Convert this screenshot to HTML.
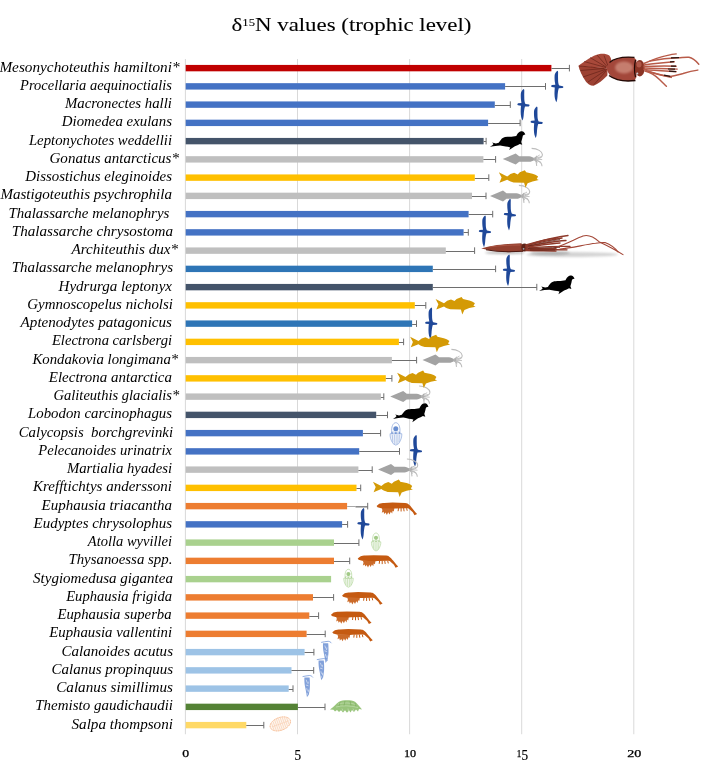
<!DOCTYPE html><html><head><meta charset="utf-8"><title>d15N values</title><style>
html,body{margin:0;padding:0;background:#fff;}
svg{display:block;}
.lab{font-family:"Liberation Serif",serif;font-style:italic;font-size:14.8px;fill:#000;}
.ax{font-family:"Liberation Serif",serif;font-size:10.4px;fill:#000;stroke:#000;stroke-width:0.25px;}
.ax5{font-family:"Liberation Serif",serif;font-size:15px;fill:#000;stroke:#000;stroke-width:0.2px;}
.ttl{font-family:"Liberation Serif","DejaVu Serif",serif;font-size:19px;fill:#000;stroke:#000;stroke-width:0.08px;}
</style></head><body>
<svg width="713" height="760" viewBox="0 0 713 760">
<filter id="blur1" x="-20%" y="-200%" width="140%" height="500%"><feGaussianBlur stdDeviation="1.2"/></filter>
<text class="ttl" x="231.60" y="30.6" textLength="239.80" lengthAdjust="spacingAndGlyphs">&#948;<tspan font-size="10.5px" dy="-5">15</tspan><tspan dy="5">N values (trophic level)</tspan></text>
<rect x="297.00" y="59.00" width="1" height="675.25" fill="#D9D9D9"/>
<rect x="409.10" y="59.00" width="1" height="675.25" fill="#D9D9D9"/>
<rect x="521.20" y="59.00" width="1" height="675.25" fill="#D9D9D9"/>
<rect x="633.30" y="59.00" width="1" height="675.25" fill="#D9D9D9"/>
<rect x="184.90" y="59.00" width="1" height="675.25" fill="#D9D9D9"/>
<rect x="185.70" y="64.92" width="365.70" height="6.4" fill="#C00000"/>
<rect x="185.70" y="83.17" width="319.40" height="6.4" fill="#4472C4"/>
<rect x="185.70" y="101.42" width="309.10" height="6.4" fill="#4472C4"/>
<rect x="185.70" y="119.67" width="302.40" height="6.4" fill="#4472C4"/>
<rect x="185.70" y="137.93" width="297.90" height="6.4" fill="#44546A"/>
<rect x="185.70" y="156.18" width="297.70" height="6.4" fill="#BFBFBF"/>
<rect x="185.70" y="174.43" width="289.10" height="6.4" fill="#FFC000"/>
<rect x="185.70" y="192.68" width="286.30" height="6.4" fill="#BFBFBF"/>
<rect x="185.70" y="210.93" width="282.90" height="6.4" fill="#4472C4"/>
<rect x="185.70" y="229.18" width="277.90" height="6.4" fill="#4472C4"/>
<rect x="185.70" y="247.43" width="260.10" height="6.4" fill="#BFBFBF"/>
<rect x="185.70" y="265.68" width="247.10" height="6.4" fill="#2E75B6"/>
<rect x="185.70" y="283.93" width="247.10" height="6.4" fill="#44546A"/>
<rect x="185.70" y="302.18" width="229.10" height="6.4" fill="#FFC000"/>
<rect x="185.70" y="320.43" width="226.40" height="6.4" fill="#2E75B6"/>
<rect x="185.70" y="338.68" width="213.20" height="6.4" fill="#FFC000"/>
<rect x="185.70" y="356.93" width="206.20" height="6.4" fill="#BFBFBF"/>
<rect x="185.70" y="375.18" width="200.10" height="6.4" fill="#FFC000"/>
<rect x="185.70" y="393.43" width="195.20" height="6.4" fill="#BFBFBF"/>
<rect x="185.70" y="411.68" width="190.50" height="6.4" fill="#44546A"/>
<rect x="185.70" y="429.93" width="177.20" height="6.4" fill="#4472C4"/>
<rect x="185.70" y="448.18" width="173.50" height="6.4" fill="#4472C4"/>
<rect x="185.70" y="466.43" width="172.70" height="6.4" fill="#BFBFBF"/>
<rect x="185.70" y="484.68" width="170.80" height="6.4" fill="#FFC000"/>
<rect x="185.70" y="502.93" width="161.40" height="6.4" fill="#ED7D31"/>
<rect x="185.70" y="521.17" width="156.40" height="6.4" fill="#4472C4"/>
<rect x="185.70" y="539.42" width="148.30" height="6.4" fill="#A9D18E"/>
<rect x="185.70" y="557.67" width="148.30" height="6.4" fill="#ED7D31"/>
<rect x="185.70" y="575.92" width="145.40" height="6.4" fill="#A9D18E"/>
<rect x="185.70" y="594.17" width="127.30" height="6.4" fill="#ED7D31"/>
<rect x="185.70" y="612.42" width="123.60" height="6.4" fill="#ED7D31"/>
<rect x="185.70" y="630.67" width="120.90" height="6.4" fill="#ED7D31"/>
<rect x="185.70" y="648.92" width="118.90" height="6.4" fill="#9DC3E6"/>
<rect x="185.70" y="667.17" width="105.80" height="6.4" fill="#9DC3E6"/>
<rect x="185.70" y="685.42" width="103.00" height="6.4" fill="#9DC3E6"/>
<rect x="185.70" y="703.67" width="112.20" height="6.4" fill="#548235"/>
<rect x="185.70" y="721.92" width="60.60" height="6.4" fill="#FFD966"/>
<g><path fill="#A8493A" d="M578.4,65.7 C585,61 592,55.5 599.5,53.9 C603,53.3 607,53.8 609.3,55.4 C611,57.5 611.8,60 611.3,62.7 L607.5,68.5 Z"/><path fill="#9C4132" d="M578.4,65.7 L607.5,68.5 L607.4,75.5 C603,80 598,84 593.6,85.8 C590,85.5 587.5,83.5 585.8,81.4 C582,76 579.5,70 578.4,65.7 Z"/><g fill="none" stroke="#5E1E14" stroke-width="0.8" opacity="0.75"><path d="M606,67.5 L584,61.5 M606,67 L590,57.5 M607,66.5 L597,55 M608,66 L604,55.5 M606,70 L588,82 M606,71 L594,84.5 M605,69.5 L583,77 M604,68.5 L580.5,70.5"/></g><path fill="none" stroke="#7A2A1D" stroke-width="1.1" d="M579,66 C590,67 600,67.8 608,69.5"/><path fill="#A3473A" d="M607,66.5 C610,61 616,58 624,57.2 C628,56.8 632,57 634.5,58 L636.5,60 L636.5,77 L634.5,80.5 C628,81.5 620,81 614,78.5 C610.5,76.5 608,73 607,70 Z"/><ellipse cx="624" cy="67.5" rx="9" ry="6" fill="#DDA292" opacity="0.6" filter="url(#blur1)"/><path fill="none" stroke="#220804" stroke-width="1.1" d="M609.5,62.5 C614,58.5 622,56.3 634.5,57.4"/><path fill="none" stroke="#220804" stroke-width="1.5" d="M609,75.5 C615,80 625,81.8 635.5,80.5"/><ellipse cx="639.8" cy="68.2" rx="5" ry="8.2" fill="#8A3425"/><ellipse cx="639" cy="64.5" rx="2.5" ry="3" fill="#C87262" opacity="0.6"/><path fill="none" stroke="#220804" stroke-width="1.2" d="M635.5,60 C634.3,65 634.3,72 635.5,77"/><circle cx="637.3" cy="73.5" r="1" fill="#C8D0D8"/><g fill="none" stroke="#B85B49" stroke-width="1.45" stroke-linecap="round"><path d="M644,63.5 C652,60 659,57 665.4,55.9 C669,55 673,54 676.2,53.9"/><path d="M650,61 C660,59 670,58 678.2,57.8 C683,57.5 686,57 689,57.3 C693,58 696,61 698.8,64.2"/><path d="M644,65 C654,63.5 664,62.5 674.3,61.7"/><path d="M644,66.5 C655,66 666,66 676.2,66.2"/><path d="M644,68 C655,68.5 666,68.8 677.2,69.1"/><path d="M644,69.5 C655,70.5 666,71 676.2,71.6"/><path d="M648,71.5 C656,74 663,76 670.3,76.5 C675,76 679,74.5 683.1,73.5 C688,72 693,70.8 697.8,70.1"/><path d="M645,71 C652,72.5 656,76 660,80 C662.5,82.5 664.5,84.5 666.4,86.3"/><path d="M646,70.5 C656,73.5 664,76 671.3,77.4"/></g><g fill="none" stroke="#2A1410" stroke-width="1.2"><path d="M671,57.8 L679,57.6 M670,61.9 L674,61.7 M671,66.1 L676,66.2 M669,71.2 L676,71.6 M664,75.2 L670.3,76.4 M668,69 L675,69.1"/></g></g>
<g><ellipse cx="572" cy="254.5" rx="46" ry="2.4" fill="#A0A0A0" opacity="0.45" filter="url(#blur1)"/><ellipse cx="505" cy="252.8" rx="20" ry="1.4" fill="#606060" opacity="0.45" filter="url(#blur1)"/><ellipse cx="550" cy="253" rx="20" ry="2" fill="#808080" opacity="0.45" filter="url(#blur1)"/><path fill="#93402F" d="M481.2,248.6 C488,246.5 498,244.5 508,244 L521,243.3 C523,244 524.5,247 523.8,251.2 L508,252.2 C498,251.6 488,250.2 481.2,248.6 Z"/><path fill="none" stroke="#B8604D" stroke-width="1" opacity="0.7" d="M490,246.8 C500,245.5 510,245 520,245"/><path fill="none" stroke="#4E1A12" stroke-width="1.1" d="M486,249.8 C495,251.5 508,252.2 523,251.2"/><ellipse cx="524.5" cy="247.4" rx="3.2" ry="4" fill="#5E2419"/><circle cx="523.6" cy="248.8" r="0.9" fill="#9AA6B0"/><g fill="none" stroke="#8E3A2B" stroke-width="1.35" stroke-linecap="round"><path d="M526,245 C540,241 555,237 568,235.5"/><path d="M526,245.5 C540,242.5 552,239.5 562,238"/><path d="M526,246.5 C542,244 555,241 566,240.5"/><path d="M526,247 C540,245.5 550,243.5 560,243"/><path d="M526,248 C542,247 556,246 570,246.5"/><path d="M526,249 C538,248.5 548,248.2 556,248.5"/><path d="M526,249.5 C545,250 556,249.5 567,249.8"/><path d="M526,250.5 C540,251 548,250.5 556,251"/><path d="M530,244.5 C540,241 548,238.5 556,238.5"/></g><g fill="none" stroke="#A34636" stroke-width="1.1" stroke-linecap="round"><path d="M555,247.5 C565,245 575,239 583,236 C590,234 595,238 599,241.7 C608,246 616,250 623,254.6"/><path d="M560,249 C572,248 585,244.5 595.6,243.3 C600,242.6 603,242.2 605,242.6 C610,244.5 615,248 618,252"/></g><g fill="none" stroke="#5A2016" stroke-width="0.7"><path d="M528,246 C540,243.5 550,241 560,239.5"/><path d="M528,248.5 C540,248 550,247.5 560,247.5"/><path d="M530,250 C540,250.2 548,250 555,250"/></g></g>
<g transform="translate(551,70.7)"><path fill="#1F4899" d="M6.4,0 C4.8,1.3 3.7,3 3.6,5 C3.5,7 3.6,10 4,12.1 L4.3,14.1 L1,14.3 C0,14.6 -0.2,16 0.8,16.3 L3.8,16.7 C3.6,18.5 3.5,21 3.5,23.5 C3.5,26.5 4.2,29.5 5.3,31.6 C6,30.5 6.3,28.5 6.5,26 C6.7,23 6.9,20.5 7.8,17.6 L11.5,17.4 C12.4,17.2 12.7,16.2 11.9,15.6 L8.3,14.9 C7.5,13.8 7.2,12 7.1,10 C7,7 7,4 7.1,1.5 C7.1,0.8 6.9,0.2 6.4,0 Z"/></g>
<g transform="translate(517.2,89)"><path fill="#1F4899" d="M6.4,0 C4.8,1.3 3.7,3 3.6,5 C3.5,7 3.6,10 4,12.1 L4.3,14.1 L1,14.3 C0,14.6 -0.2,16 0.8,16.3 L3.8,16.7 C3.6,18.5 3.5,21 3.5,23.5 C3.5,26.5 4.2,29.5 5.3,31.6 C6,30.5 6.3,28.5 6.5,26 C6.7,23 6.9,20.5 7.8,17.6 L11.5,17.4 C12.4,17.2 12.7,16.2 11.9,15.6 L8.3,14.9 C7.5,13.8 7.2,12 7.1,10 C7,7 7,4 7.1,1.5 C7.1,0.8 6.9,0.2 6.4,0 Z"/></g>
<g transform="translate(530.4,106.5)"><path fill="#1F4899" d="M6.4,0 C4.8,1.3 3.7,3 3.6,5 C3.5,7 3.6,10 4,12.1 L4.3,14.1 L1,14.3 C0,14.6 -0.2,16 0.8,16.3 L3.8,16.7 C3.6,18.5 3.5,21 3.5,23.5 C3.5,26.5 4.2,29.5 5.3,31.6 C6,30.5 6.3,28.5 6.5,26 C6.7,23 6.9,20.5 7.8,17.6 L11.5,17.4 C12.4,17.2 12.7,16.2 11.9,15.6 L8.3,14.9 C7.5,13.8 7.2,12 7.1,10 C7,7 7,4 7.1,1.5 C7.1,0.8 6.9,0.2 6.4,0 Z"/></g>
<g transform="translate(503.7,198.8)"><path fill="#1F4899" d="M6.4,0 C4.8,1.3 3.7,3 3.6,5 C3.5,7 3.6,10 4,12.1 L4.3,14.1 L1,14.3 C0,14.6 -0.2,16 0.8,16.3 L3.8,16.7 C3.6,18.5 3.5,21 3.5,23.5 C3.5,26.5 4.2,29.5 5.3,31.6 C6,30.5 6.3,28.5 6.5,26 C6.7,23 6.9,20.5 7.8,17.6 L11.5,17.4 C12.4,17.2 12.7,16.2 11.9,15.6 L8.3,14.9 C7.5,13.8 7.2,12 7.1,10 C7,7 7,4 7.1,1.5 C7.1,0.8 6.9,0.2 6.4,0 Z"/></g>
<g transform="translate(478.7,215.6)"><path fill="#1F4899" d="M6.4,0 C4.8,1.3 3.7,3 3.6,5 C3.5,7 3.6,10 4,12.1 L4.3,14.1 L1,14.3 C0,14.6 -0.2,16 0.8,16.3 L3.8,16.7 C3.6,18.5 3.5,21 3.5,23.5 C3.5,26.5 4.2,29.5 5.3,31.6 C6,30.5 6.3,28.5 6.5,26 C6.7,23 6.9,20.5 7.8,17.6 L11.5,17.4 C12.4,17.2 12.7,16.2 11.9,15.6 L8.3,14.9 C7.5,13.8 7.2,12 7.1,10 C7,7 7,4 7.1,1.5 C7.1,0.8 6.9,0.2 6.4,0 Z"/></g>
<g transform="translate(502.7,254.4)"><path fill="#1F4899" d="M6.4,0 C4.8,1.3 3.7,3 3.6,5 C3.5,7 3.6,10 4,12.1 L4.3,14.1 L1,14.3 C0,14.6 -0.2,16 0.8,16.3 L3.8,16.7 C3.6,18.5 3.5,21 3.5,23.5 C3.5,26.5 4.2,29.5 5.3,31.6 C6,30.5 6.3,28.5 6.5,26 C6.7,23 6.9,20.5 7.8,17.6 L11.5,17.4 C12.4,17.2 12.7,16.2 11.9,15.6 L8.3,14.9 C7.5,13.8 7.2,12 7.1,10 C7,7 7,4 7.1,1.5 C7.1,0.8 6.9,0.2 6.4,0 Z"/></g>
<g transform="translate(425,307.4)"><path fill="#1F4899" d="M6.4,0 C4.8,1.3 3.7,3 3.6,5 C3.5,7 3.6,10 4,12.1 L4.3,14.1 L1,14.3 C0,14.6 -0.2,16 0.8,16.3 L3.8,16.7 C3.6,18.5 3.5,21 3.5,23.5 C3.5,26.5 4.2,29.5 5.3,31.6 C6,30.5 6.3,28.5 6.5,26 C6.7,23 6.9,20.5 7.8,17.6 L11.5,17.4 C12.4,17.2 12.7,16.2 11.9,15.6 L8.3,14.9 C7.5,13.8 7.2,12 7.1,10 C7,7 7,4 7.1,1.5 C7.1,0.8 6.9,0.2 6.4,0 Z"/></g>
<g transform="translate(409.7,434.9)"><path fill="#1F4899" d="M6.4,0 C4.8,1.3 3.7,3 3.6,5 C3.5,7 3.6,10 4,12.1 L4.3,14.1 L1,14.3 C0,14.6 -0.2,16 0.8,16.3 L3.8,16.7 C3.6,18.5 3.5,21 3.5,23.5 C3.5,26.5 4.2,29.5 5.3,31.6 C6,30.5 6.3,28.5 6.5,26 C6.7,23 6.9,20.5 7.8,17.6 L11.5,17.4 C12.4,17.2 12.7,16.2 11.9,15.6 L8.3,14.9 C7.5,13.8 7.2,12 7.1,10 C7,7 7,4 7.1,1.5 C7.1,0.8 6.9,0.2 6.4,0 Z"/></g>
<g transform="translate(357.2,508)"><path fill="#1F4899" d="M6.4,0 C4.8,1.3 3.7,3 3.6,5 C3.5,7 3.6,10 4,12.1 L4.3,14.1 L1,14.3 C0,14.6 -0.2,16 0.8,16.3 L3.8,16.7 C3.6,18.5 3.5,21 3.5,23.5 C3.5,26.5 4.2,29.5 5.3,31.6 C6,30.5 6.3,28.5 6.5,26 C6.7,23 6.9,20.5 7.8,17.6 L11.5,17.4 C12.4,17.2 12.7,16.2 11.9,15.6 L8.3,14.9 C7.5,13.8 7.2,12 7.1,10 C7,7 7,4 7.1,1.5 C7.1,0.8 6.9,0.2 6.4,0 Z"/></g>
<g transform="translate(489.9,131.2)"><path fill="#000" d="M2.2,11.2 L6,12.2 L8.8,11.5 C9.6,10.5 10.2,9.6 10.9,8.7 C12,7.3 13.5,6.4 15.1,5.9 C17,5.6 19.5,5.6 21.5,5.6 L26.4,4.9 C26.8,4 27.2,3.1 27.8,2.4 C28.8,1.1 30,0.2 31.3,0 C32.5,0 33.5,0.4 34.1,1 L35.5,3.1 L33,4.2 C32.8,5.2 32.5,6.3 32.3,7.3 C32,8.5 31.6,9.7 31.3,10.8 L32.3,13.5 L29.9,12.8 C28.5,13.8 26.8,14.6 25,15 L19.3,18.9 L20.4,16.1 C19,15.8 17.3,15.6 15.8,15.4 C14,15.1 12,14.7 10.2,14.3 L5.3,14.7 L0,15.6 L2.5,14 L3.6,12.8 Z"/></g>
<g transform="translate(539.1,275.4)"><path fill="#000" d="M2.2,11.2 L6,12.2 L8.8,11.5 C9.6,10.5 10.2,9.6 10.9,8.7 C12,7.3 13.5,6.4 15.1,5.9 C17,5.6 19.5,5.6 21.5,5.6 L26.4,4.9 C26.8,4 27.2,3.1 27.8,2.4 C28.8,1.1 30,0.2 31.3,0 C32.5,0 33.5,0.4 34.1,1 L35.5,3.1 L33,4.2 C32.8,5.2 32.5,6.3 32.3,7.3 C32,8.5 31.6,9.7 31.3,10.8 L32.3,13.5 L29.9,12.8 C28.5,13.8 26.8,14.6 25,15 L19.3,18.9 L20.4,16.1 C19,15.8 17.3,15.6 15.8,15.4 C14,15.1 12,14.7 10.2,14.3 L5.3,14.7 L0,15.6 L2.5,14 L3.6,12.8 Z"/></g>
<g transform="translate(393,403.3)"><path fill="#000" d="M2.2,11.2 L6,12.2 L8.8,11.5 C9.6,10.5 10.2,9.6 10.9,8.7 C12,7.3 13.5,6.4 15.1,5.9 C17,5.6 19.5,5.6 21.5,5.6 L26.4,4.9 C26.8,4 27.2,3.1 27.8,2.4 C28.8,1.1 30,0.2 31.3,0 C32.5,0 33.5,0.4 34.1,1 L35.5,3.1 L33,4.2 C32.8,5.2 32.5,6.3 32.3,7.3 C32,8.5 31.6,9.7 31.3,10.8 L32.3,13.5 L29.9,12.8 C28.5,13.8 26.8,14.6 25,15 L19.3,18.9 L20.4,16.1 C19,15.8 17.3,15.6 15.8,15.4 C14,15.1 12,14.7 10.2,14.3 L5.3,14.7 L0,15.6 L2.5,14 L3.6,12.8 Z"/></g>
<g transform="translate(502.7,159)"><path fill="#A3A3A3" d="M0,0 L13,-5.5 L16.5,-2.8 L26.5,-2.8 C28.5,-2.5 30,-1.8 31.5,-1 L34.5,-3.8 L33.5,-0.5 L36,0 L33.5,0.6 L35,4.5 L31.5,1.2 C30,2 28.5,2.6 26.5,2.8 L16.5,2.8 L13,5.5 Z"/><path fill="none" stroke="#B5B5B5" stroke-width="0.8" d="M31,-0.5 L38.5,-2.2 M31,0 L39.5,0.6 M31,0.6 L38,3.2 M31,-0.2 L37,-4"/><path fill="none" stroke="#BDBDBD" stroke-width="1.1" d="M35,-0.5 C37.5,-1 39.8,-2.5 39.7,-4.5 C39.5,-7.5 35,-10.5 28.9,-10.6 M34,1.2 C37,2.2 39.3,4.5 39.3,7.2 M33.2,1 L34,6.8"/></g>
<g transform="translate(490,196)"><path fill="#A3A3A3" d="M0,0 L13,-5.5 L16.5,-2.8 L26.5,-2.8 C28.5,-2.5 30,-1.8 31.5,-1 L34.5,-3.8 L33.5,-0.5 L36,0 L33.5,0.6 L35,4.5 L31.5,1.2 C30,2 28.5,2.6 26.5,2.8 L16.5,2.8 L13,5.5 Z"/><path fill="none" stroke="#B5B5B5" stroke-width="0.8" d="M31,-0.5 L38.5,-2.2 M31,0 L39.5,0.6 M31,0.6 L38,3.2 M31,-0.2 L37,-4"/><path fill="none" stroke="#BDBDBD" stroke-width="1.1" d="M35,-0.5 C37.5,-1 39.8,-2.5 39.7,-4.5 C39.5,-7.5 35,-10.5 28.9,-10.6 M34,1.2 C37,2.2 39.3,4.5 39.3,7.2 M33.2,1 L34,6.8"/></g>
<g transform="translate(422.5,360)"><path fill="#A3A3A3" d="M0,0 L13,-5.5 L16.5,-2.8 L26.5,-2.8 C28.5,-2.5 30,-1.8 31.5,-1 L34.5,-3.8 L33.5,-0.5 L36,0 L33.5,0.6 L35,4.5 L31.5,1.2 C30,2 28.5,2.6 26.5,2.8 L16.5,2.8 L13,5.5 Z"/><path fill="none" stroke="#B5B5B5" stroke-width="0.8" d="M31,-0.5 L38.5,-2.2 M31,0 L39.5,0.6 M31,0.6 L38,3.2 M31,-0.2 L37,-4"/><path fill="none" stroke="#BDBDBD" stroke-width="1.1" d="M35,-0.5 C37.5,-1 39.8,-2.5 39.7,-4.5 C39.5,-7.5 35,-10.5 28.9,-10.6 M34,1.2 C37,2.2 39.3,4.5 39.3,7.2 M33.2,1 L34,6.8"/></g>
<g transform="translate(390.2,396.6)"><path fill="#A3A3A3" d="M0,0 L13,-5.5 L16.5,-2.8 L26.5,-2.8 C28.5,-2.5 30,-1.8 31.5,-1 L34.5,-3.8 L33.5,-0.5 L36,0 L33.5,0.6 L35,4.5 L31.5,1.2 C30,2 28.5,2.6 26.5,2.8 L16.5,2.8 L13,5.5 Z"/><path fill="none" stroke="#B5B5B5" stroke-width="0.8" d="M31,-0.5 L38.5,-2.2 M31,0 L39.5,0.6 M31,0.6 L38,3.2 M31,-0.2 L37,-4"/><path fill="none" stroke="#BDBDBD" stroke-width="1.1" d="M35,-0.5 C37.5,-1 39.8,-2.5 39.7,-4.5 C39.5,-7.5 35,-10.5 28.9,-10.6 M34,1.2 C37,2.2 39.3,4.5 39.3,7.2 M33.2,1 L34,6.8"/></g>
<g transform="translate(378,469.6)"><path fill="#A3A3A3" d="M0,0 L13,-5.5 L16.5,-2.8 L26.5,-2.8 C28.5,-2.5 30,-1.8 31.5,-1 L34.5,-3.8 L33.5,-0.5 L36,0 L33.5,0.6 L35,4.5 L31.5,1.2 C30,2 28.5,2.6 26.5,2.8 L16.5,2.8 L13,5.5 Z"/><path fill="none" stroke="#B5B5B5" stroke-width="0.8" d="M31,-0.5 L38.5,-2.2 M31,0 L39.5,0.6 M31,0.6 L38,3.2 M31,-0.2 L37,-4"/><path fill="none" stroke="#BDBDBD" stroke-width="1.1" d="M35,-0.5 C37.5,-1 39.8,-2.5 39.7,-4.5 C39.5,-7.5 35,-10.5 28.9,-10.6 M34,1.2 C37,2.2 39.3,4.5 39.3,7.2 M33.2,1 L34,6.8"/></g>
<g transform="translate(498.6,178.5)"><path fill="#D49A05" d="M0.2,-6.2 L3,-0.9 L0.9,4.3 L8.6,1.2 C10.5,2.5 12.5,3.5 14.9,4 L25.5,4.3 L26.9,9.2 L29,4.7 L33.9,2.9 L40.2,1.5 L38.1,0.5 L39.5,-2 C37.5,-3.5 36,-4.3 33.9,-4.8 L27.6,-6.2 L26.2,-8.3 L21.2,-6.2 L19.1,-4.1 L15.6,-5.8 L11.8,-4.4 L8.6,-2 Z"/></g>
<g transform="translate(435.4,305.2)"><path fill="#D49A05" d="M0.2,-6.2 L3,-0.9 L0.9,4.3 L8.6,1.2 C10.5,2.5 12.5,3.5 14.9,4 L25.5,4.3 L26.9,9.2 L29,4.7 L33.9,2.9 L40.2,1.5 L38.1,0.5 L39.5,-2 C37.5,-3.5 36,-4.3 33.9,-4.8 L27.6,-6.2 L26.2,-8.3 L21.2,-6.2 L19.1,-4.1 L15.6,-5.8 L11.8,-4.4 L8.6,-2 Z"/></g>
<g transform="translate(409.9,343)"><path fill="#D49A05" d="M0.2,-6.2 L3,-0.9 L0.9,4.3 L8.6,1.2 C10.5,2.5 12.5,3.5 14.9,4 L25.5,4.3 L26.9,9.2 L29,4.7 L33.9,2.9 L40.2,1.5 L38.1,0.5 L39.5,-2 C37.5,-3.5 36,-4.3 33.9,-4.8 L27.6,-6.2 L26.2,-8.3 L21.2,-6.2 L19.1,-4.1 L15.6,-5.8 L11.8,-4.4 L8.6,-2 Z"/></g>
<g transform="translate(396.9,378.9)"><path fill="#D49A05" d="M0.2,-6.2 L3,-0.9 L0.9,4.3 L8.6,1.2 C10.5,2.5 12.5,3.5 14.9,4 L25.5,4.3 L26.9,9.2 L29,4.7 L33.9,2.9 L40.2,1.5 L38.1,0.5 L39.5,-2 C37.5,-3.5 36,-4.3 33.9,-4.8 L27.6,-6.2 L26.2,-8.3 L21.2,-6.2 L19.1,-4.1 L15.6,-5.8 L11.8,-4.4 L8.6,-2 Z"/></g>
<g transform="translate(372.7,487.9)"><path fill="#D49A05" d="M0.2,-6.2 L3,-0.9 L0.9,4.3 L8.6,1.2 C10.5,2.5 12.5,3.5 14.9,4 L25.5,4.3 L26.9,9.2 L29,4.7 L33.9,2.9 L40.2,1.5 L38.1,0.5 L39.5,-2 C37.5,-3.5 36,-4.3 33.9,-4.8 L27.6,-6.2 L26.2,-8.3 L21.2,-6.2 L19.1,-4.1 L15.6,-5.8 L11.8,-4.4 L8.6,-2 Z"/></g>
<g transform="translate(376.6,502.6)"><path fill="#C55A11" d="M0,3.3 L2.6,1.2 C4,0.8 6,0.4 7.6,0.4 L16,0 L28.7,0.4 C30,0.6 30.7,0.9 31.2,1.2 C33,2.5 34.5,4 35.4,5.4 L38.8,9.6 L40.5,11.3 L37.9,12.6 L36.2,9.6 L32,5.8 L30.4,5.6 L20,5.8 L17.7,6 L4.5,5.6 L0.9,4.6 Z"/><path fill="#C55A11" opacity="0.9" d="M5,5.2 L17.8,5.5 L17.2,9 L16,8.2 L15.6,11 L14.2,9.2 L12.9,11.8 L11.6,9.6 L10.3,12.3 L9,9.9 L7.6,11.4 L7,9.2 L5.2,10.2 L5.8,7.4 Z"/><path fill="none" stroke="#C55A11" stroke-width="1" d="M21.9,5.5 L21.5,8.6 M24.5,5.5 L24.5,8.9 M27,5.5 L27.5,8.7 M30,5.6 L30.6,8.2"/></g>
<g transform="translate(357.7,555.2)"><path fill="#C55A11" d="M0,3.3 L2.6,1.2 C4,0.8 6,0.4 7.6,0.4 L16,0 L28.7,0.4 C30,0.6 30.7,0.9 31.2,1.2 C33,2.5 34.5,4 35.4,5.4 L38.8,9.6 L40.5,11.3 L37.9,12.6 L36.2,9.6 L32,5.8 L30.4,5.6 L20,5.8 L17.7,6 L4.5,5.6 L0.9,4.6 Z"/><path fill="#C55A11" opacity="0.9" d="M5,5.2 L17.8,5.5 L17.2,9 L16,8.2 L15.6,11 L14.2,9.2 L12.9,11.8 L11.6,9.6 L10.3,12.3 L9,9.9 L7.6,11.4 L7,9.2 L5.2,10.2 L5.8,7.4 Z"/><path fill="none" stroke="#C55A11" stroke-width="1" d="M21.9,5.5 L21.5,8.6 M24.5,5.5 L24.5,8.9 M27,5.5 L27.5,8.7 M30,5.6 L30.6,8.2"/></g>
<g transform="translate(342.1,592.1)"><path fill="#C55A11" d="M0,3.3 L2.6,1.2 C4,0.8 6,0.4 7.6,0.4 L16,0 L28.7,0.4 C30,0.6 30.7,0.9 31.2,1.2 C33,2.5 34.5,4 35.4,5.4 L38.8,9.6 L40.5,11.3 L37.9,12.6 L36.2,9.6 L32,5.8 L30.4,5.6 L20,5.8 L17.7,6 L4.5,5.6 L0.9,4.6 Z"/><path fill="#C55A11" opacity="0.9" d="M5,5.2 L17.8,5.5 L17.2,9 L16,8.2 L15.6,11 L14.2,9.2 L12.9,11.8 L11.6,9.6 L10.3,12.3 L9,9.9 L7.6,11.4 L7,9.2 L5.2,10.2 L5.8,7.4 Z"/><path fill="none" stroke="#C55A11" stroke-width="1" d="M21.9,5.5 L21.5,8.6 M24.5,5.5 L24.5,8.9 M27,5.5 L27.5,8.7 M30,5.6 L30.6,8.2"/></g>
<g transform="translate(331,611.4)"><path fill="#C55A11" d="M0,3.3 L2.6,1.2 C4,0.8 6,0.4 7.6,0.4 L16,0 L28.7,0.4 C30,0.6 30.7,0.9 31.2,1.2 C33,2.5 34.5,4 35.4,5.4 L38.8,9.6 L40.5,11.3 L37.9,12.6 L36.2,9.6 L32,5.8 L30.4,5.6 L20,5.8 L17.7,6 L4.5,5.6 L0.9,4.6 Z"/><path fill="#C55A11" opacity="0.9" d="M5,5.2 L17.8,5.5 L17.2,9 L16,8.2 L15.6,11 L14.2,9.2 L12.9,11.8 L11.6,9.6 L10.3,12.3 L9,9.9 L7.6,11.4 L7,9.2 L5.2,10.2 L5.8,7.4 Z"/><path fill="none" stroke="#C55A11" stroke-width="1" d="M21.9,5.5 L21.5,8.6 M24.5,5.5 L24.5,8.9 M27,5.5 L27.5,8.7 M30,5.6 L30.6,8.2"/></g>
<g transform="translate(332.3,629)"><path fill="#C55A11" d="M0,3.3 L2.6,1.2 C4,0.8 6,0.4 7.6,0.4 L16,0 L28.7,0.4 C30,0.6 30.7,0.9 31.2,1.2 C33,2.5 34.5,4 35.4,5.4 L38.8,9.6 L40.5,11.3 L37.9,12.6 L36.2,9.6 L32,5.8 L30.4,5.6 L20,5.8 L17.7,6 L4.5,5.6 L0.9,4.6 Z"/><path fill="#C55A11" opacity="0.9" d="M5,5.2 L17.8,5.5 L17.2,9 L16,8.2 L15.6,11 L14.2,9.2 L12.9,11.8 L11.6,9.6 L10.3,12.3 L9,9.9 L7.6,11.4 L7,9.2 L5.2,10.2 L5.8,7.4 Z"/><path fill="none" stroke="#C55A11" stroke-width="1" d="M21.9,5.5 L21.5,8.6 M24.5,5.5 L24.5,8.9 M27,5.5 L27.5,8.7 M30,5.6 L30.6,8.2"/></g>
<g transform="translate(395.8,422.7)"><path fill="none" stroke="#8FAADC" stroke-width="0.8" d="M-4,10 C-4.8,4 -2.6,0 0,0 C2.6,0 4.8,4 4,10"/><path fill="#DAE3F3" fill-opacity="0.45" stroke="#8FAADC" stroke-width="0.7" d="M-5.7,11 C-5.9,14 -5.3,17 -2.7,21 L0,22.5 L2.8,21 C5.5,17 6.2,14 6,11 Z"/><path fill="none" stroke="#8FAADC" stroke-width="0.6" d="M-3.5,12 L-3,19.5 M-1.2,12 L-1,21.5 M1.2,12 L1.2,21.5 M3.5,12 L3.2,19.5"/><circle cx="0" cy="6" r="2.5" fill="#4472C4" opacity="0.8"/><rect x="-4.6" y="9" width="9.2" height="2.4" rx="1.1" fill="#4472C4" opacity="0.6"/><ellipse cx="-2" cy="10.2" rx="1.3" ry="0.6" fill="#fff"/><ellipse cx="2" cy="10.2" rx="1.3" ry="0.6" fill="#fff"/></g>
<g transform="translate(376,533) scale(0.8)"><path fill="none" stroke="#A9D18E" stroke-width="0.8" d="M-4,10 C-4.8,4 -2.6,0 0,0 C2.6,0 4.8,4 4,10"/><path fill="#E2F0D9" fill-opacity="0.45" stroke="#A9D18E" stroke-width="0.7" d="M-5.7,11 C-5.9,14 -5.3,17 -2.7,21 L0,22.5 L2.8,21 C5.5,17 6.2,14 6,11 Z"/><path fill="none" stroke="#A9D18E" stroke-width="0.6" d="M-3.5,12 L-3,19.5 M-1.2,12 L-1,21.5 M1.2,12 L1.2,21.5 M3.5,12 L3.2,19.5"/><circle cx="0" cy="6" r="2.6" fill="#70AD47" opacity="0.65"/><rect x="-4.6" y="9" width="9.2" height="2.4" rx="1.1" fill="#70AD47" opacity="0.4"/><ellipse cx="-2" cy="10.2" rx="1.3" ry="0.6" fill="#fff"/><ellipse cx="2" cy="10.2" rx="1.3" ry="0.6" fill="#fff"/></g>
<g transform="translate(348.4,569.3) scale(0.8)"><path fill="none" stroke="#A9D18E" stroke-width="0.8" d="M-4,10 C-4.8,4 -2.6,0 0,0 C2.6,0 4.8,4 4,10"/><path fill="#E2F0D9" fill-opacity="0.45" stroke="#A9D18E" stroke-width="0.7" d="M-5.7,11 C-5.9,14 -5.3,17 -2.7,21 L0,22.5 L2.8,21 C5.5,17 6.2,14 6,11 Z"/><path fill="none" stroke="#A9D18E" stroke-width="0.6" d="M-3.5,12 L-3,19.5 M-1.2,12 L-1,21.5 M1.2,12 L1.2,21.5 M3.5,12 L3.2,19.5"/><circle cx="0" cy="6" r="2.6" fill="#70AD47" opacity="0.65"/><rect x="-4.6" y="9" width="9.2" height="2.4" rx="1.1" fill="#70AD47" opacity="0.4"/><ellipse cx="-2" cy="10.2" rx="1.3" ry="0.6" fill="#fff"/><ellipse cx="2" cy="10.2" rx="1.3" ry="0.6" fill="#fff"/></g>
<g transform="translate(321.3,641)"><path fill="none" stroke="#5B84CF" stroke-width="0.9" opacity="0.75" d="M-0.1,1.4 C2,1 4.5,0.5 6.9,0.3 C8.3,0.4 9.5,1.2 10.2,2.2"/><path fill="#5F86D0" opacity="0.78" d="M1.7,2.2 C1.5,5 1.8,9 2.4,11.7 C2.9,14 3.3,16 3.6,18 L4.3,22 L5.2,20.5 L6.1,19.8 C6.6,17 7.1,14 7.2,11.7 C7.3,8 7.2,5 6.9,2.2 Z"/><path fill="none" stroke="#fff" stroke-width="0.7" opacity="0.75" d="M3.5,4.5 L4.5,7.5 M5.6,6.5 L5.2,9 M3.2,9.8 L5.8,10.6 M4,13 L4.6,15.5 M5.8,14.5 L5.5,17 M4.5,18 L5,19.5"/></g>
<g transform="translate(316.9,658.3)"><path fill="none" stroke="#5B84CF" stroke-width="0.9" opacity="0.75" d="M-0.1,1.4 C2,1 4.5,0.5 6.9,0.3 C8.3,0.4 9.5,1.2 10.2,2.2"/><path fill="#5F86D0" opacity="0.78" d="M1.7,2.2 C1.5,5 1.8,9 2.4,11.7 C2.9,14 3.3,16 3.6,18 L4.3,22 L5.2,20.5 L6.1,19.8 C6.6,17 7.1,14 7.2,11.7 C7.3,8 7.2,5 6.9,2.2 Z"/><path fill="none" stroke="#fff" stroke-width="0.7" opacity="0.75" d="M3.5,4.5 L4.5,7.5 M5.6,6.5 L5.2,9 M3.2,9.8 L5.8,10.6 M4,13 L4.6,15.5 M5.8,14.5 L5.5,17 M4.5,18 L5,19.5"/></g>
<g transform="translate(302.7,675.2)"><path fill="none" stroke="#5B84CF" stroke-width="0.9" opacity="0.75" d="M-0.1,1.4 C2,1 4.5,0.5 6.9,0.3 C8.3,0.4 9.5,1.2 10.2,2.2"/><path fill="#5F86D0" opacity="0.78" d="M1.7,2.2 C1.5,5 1.8,9 2.4,11.7 C2.9,14 3.3,16 3.6,18 L4.3,22 L5.2,20.5 L6.1,19.8 C6.6,17 7.1,14 7.2,11.7 C7.3,8 7.2,5 6.9,2.2 Z"/><path fill="none" stroke="#fff" stroke-width="0.7" opacity="0.75" d="M3.5,4.5 L4.5,7.5 M5.6,6.5 L5.2,9 M3.2,9.8 L5.8,10.6 M4,13 L4.6,15.5 M5.8,14.5 L5.5,17 M4.5,18 L5,19.5"/></g>
<g transform="translate(330,700)"><path fill="#8FBF70" opacity="0.92" d="M0,9.5 C3,7.5 6,4 9,1.8 C11,0.6 14,0.2 17,0.2 C20,0.2 23,0.6 25,1.8 C27.5,4 30,7 32,9.5 L29,9 L28,11.5 L26,9.5 L24,12 L22,10 L20.5,12.6 L19,10.2 L17,12.8 L15,10.3 L13,12.6 L11,10.2 L9,12 L7,10 L5,11.5 L3.5,9.8 Z"/><path fill="none" stroke="#C9E2B8" stroke-width="0.6" d="M8,4 C13,2.5 20,2.5 26,4.5 M6,7 C12,5.2 20,5.5 28,7.5 M12,8.5 L13,11 M18,8.5 L18.5,11.5 M23,8.5 L24,11"/><path fill="none" stroke="#6E9E50" stroke-width="0.5" d="M10,2.5 L9,6 M15,1 L14,5.5 M20,1 L21,5.5 M25,3 L26,6.5"/></g>
<g transform="translate(280.3,723.9) rotate(-20)"><ellipse cx="0" cy="0" rx="10.6" ry="6.4" fill="#FEF6EF" stroke="#F4B183" stroke-width="0.9" stroke-dasharray="1.2 0.5"/><path fill="none" stroke="#F8CBAD" stroke-width="0.6" d="M-8,-3.5 L-8,3.5 M-6,-4.8 L-6,4.8 M-4,-5.6 L-4,5.6 M-2,-6 L-2,6 M0,-6.2 L0,6.2 M2,-6 L2,6 M4,-5.6 L4,5.6 M6,-4.8 L6,4.8 M8,-3.5 L8,3.5"/><path fill="none" stroke="#F8CBAD" stroke-width="0.5" d="M-9,0 L9,0"/></g>
<rect x="551.40" y="68" width="18.00" height="1" fill="#6E6E6E"/>
<rect x="568.90" y="64.83" width="1" height="6.6" fill="#6E6E6E"/>
<rect x="505.10" y="86" width="40.40" height="1" fill="#6E6E6E"/>
<rect x="545.00" y="83.08" width="1" height="6.6" fill="#6E6E6E"/>
<rect x="494.80" y="105" width="15.50" height="1" fill="#6E6E6E"/>
<rect x="509.80" y="101.33" width="1" height="6.6" fill="#6E6E6E"/>
<rect x="488.10" y="123" width="32.00" height="1" fill="#6E6E6E"/>
<rect x="519.60" y="119.58" width="1" height="6.6" fill="#6E6E6E"/>
<rect x="483.60" y="141" width="2.50" height="1" fill="#6E6E6E"/>
<rect x="485.60" y="137.82" width="1" height="6.6" fill="#6E6E6E"/>
<rect x="483.40" y="159" width="12.20" height="1" fill="#6E6E6E"/>
<rect x="495.10" y="156.07" width="1" height="6.6" fill="#6E6E6E"/>
<rect x="474.80" y="178" width="14.00" height="1" fill="#6E6E6E"/>
<rect x="488.30" y="174.32" width="1" height="6.6" fill="#6E6E6E"/>
<rect x="472.00" y="196" width="14.00" height="1" fill="#6E6E6E"/>
<rect x="485.50" y="192.57" width="1" height="6.6" fill="#6E6E6E"/>
<rect x="468.60" y="214" width="24.10" height="1" fill="#6E6E6E"/>
<rect x="492.20" y="210.82" width="1" height="6.6" fill="#6E6E6E"/>
<rect x="463.60" y="232" width="4.70" height="1" fill="#6E6E6E"/>
<rect x="467.80" y="229.07" width="1" height="6.6" fill="#6E6E6E"/>
<rect x="445.80" y="251" width="28.80" height="1" fill="#6E6E6E"/>
<rect x="474.10" y="247.32" width="1" height="6.6" fill="#6E6E6E"/>
<rect x="432.80" y="269" width="62.80" height="1" fill="#6E6E6E"/>
<rect x="495.10" y="265.57" width="1" height="6.6" fill="#6E6E6E"/>
<rect x="432.80" y="287" width="104.00" height="1" fill="#6E6E6E"/>
<rect x="536.30" y="283.82" width="1" height="6.6" fill="#6E6E6E"/>
<rect x="414.80" y="305" width="11.00" height="1" fill="#6E6E6E"/>
<rect x="425.30" y="302.07" width="1" height="6.6" fill="#6E6E6E"/>
<rect x="412.10" y="324" width="4.40" height="1" fill="#6E6E6E"/>
<rect x="416.00" y="320.32" width="1" height="6.6" fill="#6E6E6E"/>
<rect x="398.90" y="342" width="4.70" height="1" fill="#6E6E6E"/>
<rect x="403.10" y="338.57" width="1" height="6.6" fill="#6E6E6E"/>
<rect x="391.90" y="360" width="24.70" height="1" fill="#6E6E6E"/>
<rect x="416.10" y="356.82" width="1" height="6.6" fill="#6E6E6E"/>
<rect x="385.80" y="378" width="6.10" height="1" fill="#6E6E6E"/>
<rect x="391.40" y="375.07" width="1" height="6.6" fill="#6E6E6E"/>
<rect x="380.90" y="397" width="2.90" height="1" fill="#6E6E6E"/>
<rect x="383.30" y="393.32" width="1" height="6.6" fill="#6E6E6E"/>
<rect x="376.20" y="415" width="11.30" height="1" fill="#6E6E6E"/>
<rect x="387.00" y="411.57" width="1" height="6.6" fill="#6E6E6E"/>
<rect x="362.90" y="433" width="17.70" height="1" fill="#6E6E6E"/>
<rect x="380.10" y="429.82" width="1" height="6.6" fill="#6E6E6E"/>
<rect x="359.20" y="451" width="40.30" height="1" fill="#6E6E6E"/>
<rect x="399.00" y="448.07" width="1" height="6.6" fill="#6E6E6E"/>
<rect x="358.40" y="470" width="13.80" height="1" fill="#6E6E6E"/>
<rect x="371.70" y="466.32" width="1" height="6.6" fill="#6E6E6E"/>
<rect x="356.50" y="488" width="4.20" height="1" fill="#6E6E6E"/>
<rect x="360.20" y="484.57" width="1" height="6.6" fill="#6E6E6E"/>
<rect x="347.10" y="506" width="8.40" height="1" fill="#A8A8A8"/>
<rect x="355.5" y="506.3" width="12.20" height="1.1" fill="#5A5A5A"/>
<rect x="367.20" y="502.82" width="1" height="6.6" fill="#6E6E6E"/>
<rect x="342.10" y="524" width="5.50" height="1" fill="#6E6E6E"/>
<rect x="347.10" y="521.08" width="1" height="6.6" fill="#6E6E6E"/>
<rect x="334.00" y="543" width="24.90" height="1" fill="#6E6E6E"/>
<rect x="358.40" y="539.33" width="1" height="6.6" fill="#6E6E6E"/>
<rect x="334.00" y="561" width="15.70" height="1" fill="#6E6E6E"/>
<rect x="349.20" y="557.58" width="1" height="6.6" fill="#6E6E6E"/>
<rect x="313.00" y="597" width="20.60" height="1" fill="#6E6E6E"/>
<rect x="333.10" y="594.08" width="1" height="6.6" fill="#6E6E6E"/>
<rect x="309.30" y="616" width="9.30" height="1" fill="#6E6E6E"/>
<rect x="318.10" y="612.33" width="1" height="6.6" fill="#6E6E6E"/>
<rect x="306.60" y="634" width="18.60" height="1" fill="#6E6E6E"/>
<rect x="324.70" y="630.58" width="1" height="6.6" fill="#6E6E6E"/>
<rect x="304.60" y="652" width="9.30" height="1" fill="#6E6E6E"/>
<rect x="313.40" y="648.83" width="1" height="6.6" fill="#6E6E6E"/>
<rect x="291.50" y="670" width="22.20" height="1" fill="#6E6E6E"/>
<rect x="313.20" y="667.08" width="1" height="6.6" fill="#6E6E6E"/>
<rect x="288.70" y="689" width="4.30" height="1" fill="#6E6E6E"/>
<rect x="292.50" y="685.33" width="1" height="6.6" fill="#6E6E6E"/>
<rect x="297.90" y="707" width="27.10" height="1" fill="#6E6E6E"/>
<rect x="324.50" y="703.58" width="1" height="6.6" fill="#6E6E6E"/>
<rect x="246.30" y="725" width="17.50" height="1" fill="#6E6E6E"/>
<rect x="263.30" y="721.83" width="1" height="6.6" fill="#6E6E6E"/>
<text class="lab" x="-0.62" y="71.62" textLength="180.19" lengthAdjust="spacingAndGlyphs">Mesonychoteuthis hamiltoni*</text>
<text class="lab" x="20.10" y="89.88" textLength="151.91" lengthAdjust="spacingAndGlyphs">Procellaria aequinoctialis</text>
<text class="lab" x="64.99" y="108.12" textLength="107.01" lengthAdjust="spacingAndGlyphs">Macronectes halli</text>
<text class="lab" x="61.78" y="126.38" textLength="110.22" lengthAdjust="spacingAndGlyphs">Diomedea exulans</text>
<text class="lab" x="28.88" y="144.62" textLength="143.12" lengthAdjust="spacingAndGlyphs">Leptonychotes weddellii</text>
<text class="lab" x="49.51" y="162.88" textLength="129.49" lengthAdjust="spacingAndGlyphs">Gonatus antarcticus*</text>
<text class="lab" x="25.29" y="181.12" textLength="146.71" lengthAdjust="spacingAndGlyphs">Dissostichus eleginoides</text>
<text class="lab" x="0.41" y="199.38" textLength="171.58" lengthAdjust="spacingAndGlyphs">Mastigoteuthis psychrophila</text>
<text class="lab" x="8.45" y="217.62" textLength="160.96" lengthAdjust="spacingAndGlyphs">Thalassarche melanophrys</text>
<text class="lab" x="11.77" y="235.88" textLength="161.24" lengthAdjust="spacingAndGlyphs">Thalassarche chrysostoma</text>
<text class="lab" x="71.43" y="254.12" textLength="106.73" lengthAdjust="spacingAndGlyphs">Architeuthis dux*</text>
<text class="lab" x="11.65" y="272.38" textLength="161.36" lengthAdjust="spacingAndGlyphs">Thalassarche melanophrys</text>
<text class="lab" x="58.54" y="290.62" textLength="113.45" lengthAdjust="spacingAndGlyphs">Hydrurga leptonyx</text>
<text class="lab" x="27.24" y="308.88" textLength="145.76" lengthAdjust="spacingAndGlyphs">Gymnoscopelus nicholsi</text>
<text class="lab" x="20.62" y="327.12" textLength="151.37" lengthAdjust="spacingAndGlyphs">Aptenodytes patagonicus</text>
<text class="lab" x="51.94" y="345.38" textLength="120.07" lengthAdjust="spacingAndGlyphs">Electrona carlsbergi</text>
<text class="lab" x="32.39" y="363.62" textLength="145.81" lengthAdjust="spacingAndGlyphs">Kondakovia longimana*</text>
<text class="lab" x="48.80" y="381.88" textLength="123.19" lengthAdjust="spacingAndGlyphs">Electrona antarctica</text>
<text class="lab" x="53.48" y="400.12" textLength="125.73" lengthAdjust="spacingAndGlyphs">Galiteuthis glacialis*</text>
<text class="lab" x="28.06" y="418.38" textLength="143.94" lengthAdjust="spacingAndGlyphs">Lobodon carcinophagus</text>
<text class="lab" x="18.75" y="436.62" textLength="154.25" lengthAdjust="spacingAndGlyphs">Calycopsis  borchgrevinki</text>
<text class="lab" x="38.20" y="454.88" textLength="133.80" lengthAdjust="spacingAndGlyphs">Pelecanoides urinatrix</text>
<text class="lab" x="66.88" y="473.12" textLength="105.12" lengthAdjust="spacingAndGlyphs">Martialia hyadesi</text>
<text class="lab" x="33.05" y="491.38" textLength="138.94" lengthAdjust="spacingAndGlyphs">Krefftichtys anderssoni</text>
<text class="lab" x="41.63" y="509.62" textLength="130.36" lengthAdjust="spacingAndGlyphs">Euphausia triacantha</text>
<text class="lab" x="33.63" y="527.88" textLength="138.37" lengthAdjust="spacingAndGlyphs">Eudyptes chrysolophus</text>
<text class="lab" x="87.82" y="546.12" textLength="84.19" lengthAdjust="spacingAndGlyphs">Atolla wyvillei</text>
<text class="lab" x="68.40" y="564.38" textLength="104.00" lengthAdjust="spacingAndGlyphs">Thysanoessa spp.</text>
<text class="lab" x="33.01" y="582.62" textLength="140.00" lengthAdjust="spacingAndGlyphs">Stygiomedusa gigantea</text>
<text class="lab" x="66.21" y="600.88" textLength="105.79" lengthAdjust="spacingAndGlyphs">Euphausia frigida</text>
<text class="lab" x="57.52" y="619.12" textLength="114.08" lengthAdjust="spacingAndGlyphs">Euphausia superba</text>
<text class="lab" x="49.21" y="637.38" textLength="122.79" lengthAdjust="spacingAndGlyphs">Euphausia vallentini</text>
<text class="lab" x="61.53" y="655.62" textLength="111.48" lengthAdjust="spacingAndGlyphs">Calanoides acutus</text>
<text class="lab" x="51.49" y="673.88" textLength="121.52" lengthAdjust="spacingAndGlyphs">Calanus propinquus</text>
<text class="lab" x="56.19" y="692.12" textLength="116.82" lengthAdjust="spacingAndGlyphs">Calanus simillimus</text>
<text class="lab" x="35.23" y="710.38" textLength="137.78" lengthAdjust="spacingAndGlyphs">Themisto gaudichaudii</text>
<text class="lab" x="71.51" y="728.62" textLength="101.50" lengthAdjust="spacingAndGlyphs">Salpa thompsoni</text>
<text class="ax" x="182.3" y="756.7" textLength="6.9" lengthAdjust="spacingAndGlyphs">0</text>
<text class="ax5" x="294.6" y="760.2" textLength="6.6" lengthAdjust="spacingAndGlyphs">5</text>
<text class="ax" x="403.9" y="756.7" textLength="12.2" lengthAdjust="spacingAndGlyphs">10</text>
<text class="ax" x="516.8" y="756.7" textLength="4.6" lengthAdjust="spacingAndGlyphs">1</text>
<text class="ax5" x="521.6" y="760.2" textLength="6.6" lengthAdjust="spacingAndGlyphs">5</text>
<text class="ax" x="627.2" y="756.7" textLength="14.1" lengthAdjust="spacingAndGlyphs">20</text>
</svg></body></html>
